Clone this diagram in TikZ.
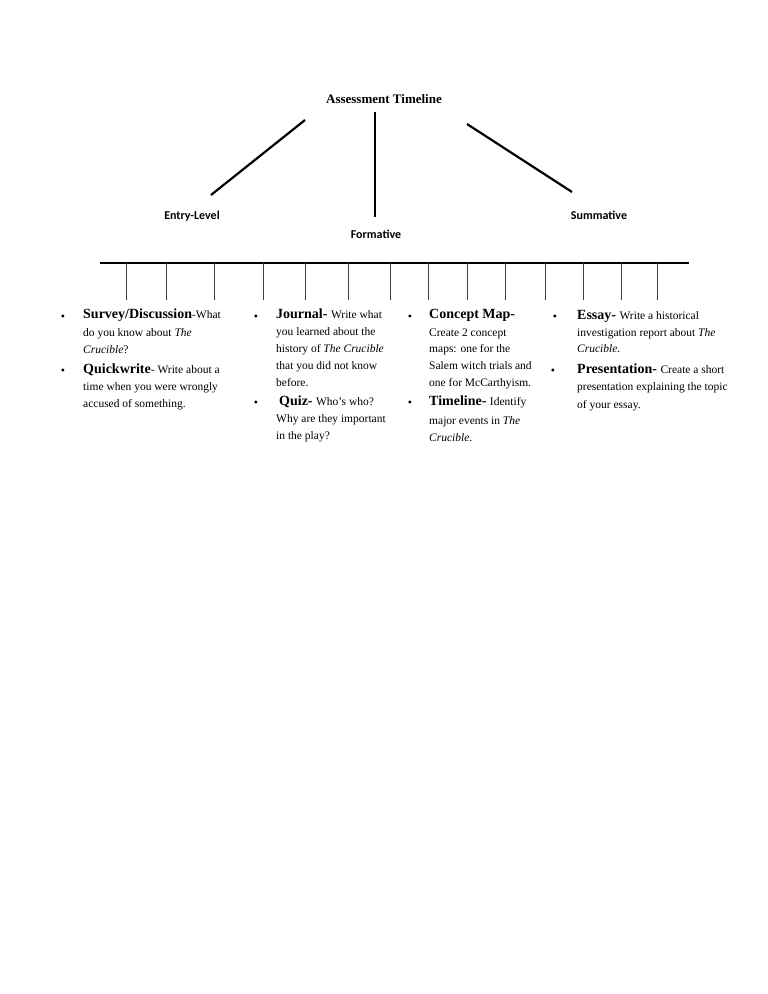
\documentclass[tikz,border=0pt]{standalone}
\usepackage{fontspec}
\setmainfont{Liberation Serif}
\newfontfamily\hdfont{Carlito}
\begin{document}
\begin{tikzpicture}[x=1pt,y=-1pt,
  tx/.style={anchor=base west,inner sep=0pt,font=\fontsize{11.5}{13}\selectfont},
  bx/.style={anchor=base west,inner sep=0pt,font=\fontsize{14}{16}\selectfont\bfseries},
  hd/.style={anchor=base,inner sep=0pt,font=\hdfont\fontsize{12}{14}\selectfont\bfseries},
  bl/.style={anchor=base,inner sep=0pt,font=\fontsize{12}{14}\selectfont},
  br/.style={line width=2.2pt},
  tk/.style={line width=0.9pt,draw=black!75}]
\useasboundingbox (0,0) rectangle (768,994);
\node[anchor=base,inner sep=0pt,font=\fontsize{13}{15}\selectfont\bfseries] (title) at (384,103) {Assessment Timeline};
\coordinate (l1a) at (305,120); \coordinate (l1b) at (211,195);
\coordinate (l2a) at (375,112); \coordinate (l2b) at (375,217);
\coordinate (l3a) at (467,124); \coordinate (l3b) at (572,192);
\draw[br] (l1a) -- (l1b); \draw[br] (l2a) -- (l2b); \draw[br] (l3a) -- (l3b);
\node[hd] (entry) at (192,219) {Entry-Level};
\node[hd] (form) at (376,238) {Formative};
\node[hd] (summ) at (599,219) {Summative};
\coordinate (axA) at (100,263); \coordinate (axB) at (689,263);
\draw[line width=2.6pt] (axA) -- (axB);
\foreach \x in {126,166,214,263,305,348,390,428,467,505,545,583,621,657}
  \draw[tk] (\x,263) -- (\x,300);
% bullets
\foreach \x/\y/\n in {63/320/b1,63/374/b2,256/320/b3,256/406/b4,410/320/b5,410/406/b6,555/320/b7,553/374/b8}
  \node[bl] (\n) at (\x,\y) {\textbullet};
% column 1
\node[bx] (c1a) at (83,318) {Survey/Discussion\mdseries\fontsize{11.5}{13}\selectfont-What};
\node[tx] (c1b) at (83,336) {do you know about \textit{The}};
\node[tx] (c1c) at (83,353) {\textit{Crucible}?};
\node[bx] (c1d) at (83,373) {Quickwrite\mdseries\fontsize{11.5}{13}\selectfont- Write about a};
\node[tx] (c1e) at (83,390) {time when you were wrongly};
\node[tx] (c1f) at (83,407) {accused of something.};
% column 2
\node[bx] (c2a) at (276,318) {Journal- \mdseries\fontsize{11.5}{13}\selectfont Write what};
\node[tx] (c2b) at (276,335) {you learned about the};
\node[tx] (c2c) at (276,352) {history of \textit{The Crucible}};
\node[tx] (c2d) at (276,369) {that you did not know};
\node[tx] (c2e) at (276,386) {before.};
\node[bx] (c2f) at (279,405) {Quiz- \mdseries\fontsize{11.5}{13}\selectfont Who's who?};
\node[tx] (c2g) at (276,422) {Why are they important};
\node[tx] (c2h) at (276,439) {in the play?};
% column 3
\node[bx] (c3a) at (429,318) {Concept Map-};
\node[tx] (c3b) at (429,336) {Create 2 concept};
\node[tx] (c3c) at (429,352) {maps: one for the};
\node[tx] (c3d) at (429,369) {Salem witch trials and};
\node[tx] (c3e) at (429,386) {one for McCarthyism.};
\node[bx] (c3f) at (429,405) {Timeline- \mdseries\fontsize{11.5}{13}\selectfont Identify};
\node[tx] (c3g) at (429,424) {major events in \textit{The}};
\node[tx] (c3h) at (429,441) {\textit{Crucible}.};
% column 4
\node[bx] (c4a) at (577,319) {Essay- \mdseries\fontsize{11.5}{13}\selectfont Write a historical};
\node[tx] (c4b) at (577,336) {investigation report about \textit{The}};
\node[tx] (c4c) at (577,352) {\textit{Crucible}.};
\node[bx] (c4d) at (577,373) {Presentation- \mdseries\fontsize{11.5}{13}\selectfont Create a short};
\node[tx] (c4e) at (577,390) {presentation explaining the topic};
\node[tx] (c4f) at (577,408) {of your essay.};
\end{tikzpicture}
\end{document}
